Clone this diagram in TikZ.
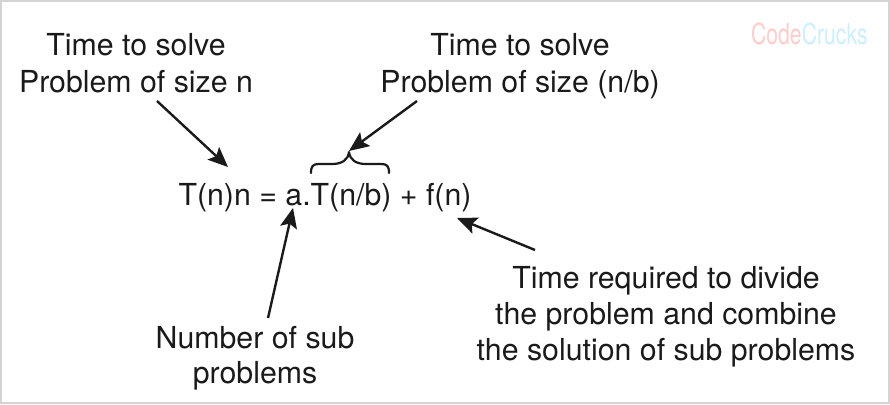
\documentclass[tikz,border=0pt]{standalone}
\usepackage{fontspec}
\setmainfont{TeX Gyre Heros}
\usetikzlibrary{arrows.meta}
\definecolor{framegray}{HTML}{D4D4D4}
\definecolor{inkc}{HTML}{1A1A1A}
\definecolor{wmred}{HTML}{FFCCCC}
\definecolor{wmblue}{HTML}{CCEEFF}
\tikzset{
  lbl/.style={inner sep=0pt,anchor=base,align=center,text=inkc,font=\fontsize{30.3}{36}\selectfont},
  pointer/.style={draw=inkc,line width=2.4pt,-{Stealth[length=20pt,width=17pt,inset=4pt]}},
  bracecurve/.style={draw=inkc,line width=2.2pt,line cap=round,line join=round}
}
\begin{document}
\begin{tikzpicture}[x=1pt,y=-1pt]
\useasboundingbox (0,0) rectangle (890,404);
\fill[framegray] (0,0) rectangle (890,404);
\fill[white] (2,2.5) rectangle (887.5,402);
\node[inner sep=0pt,anchor=base west,xscale=0.73,font=\fontsize{29}{34}\selectfont] (wm) at (751,45) {\textcolor{wmred}{Code}\textcolor{wmblue}{Crucks}};

\node[lbl] (a1) at (136,56) {Time to solve};
\node[lbl] (a2) at (136,92) {Problem of size n};
\node[lbl] (b1) at (520,56) {Time to solve};
\node[lbl] (b2) at (520,92) {Problem of size (n/b)};
\node[lbl] (eq) at (325,205.5) {T(n)n = a.T(n/b) + f(n)};
\node[lbl] (c1) at (255,348) {Number of sub};
\node[lbl] (c2) at (255,383) {problems};
\node[lbl] (d1) at (666,288.5) {Time required to divide};
\node[lbl] (d2) at (666,324.5) {the problem and combine};
\node[lbl] (d3) at (666,360) {the solution of sub problems};

\coordinate (s1) at (157,101);
\coordinate (e1) at (228,167);
\coordinate (s2) at (417,101);
\coordinate (e2) at (349,151);
\coordinate (s3) at (268,318);
\coordinate (e3) at (293,208);
\coordinate (s4) at (535,250);
\coordinate (e4) at (457,218);
\coordinate (bl) at (311,173);
\coordinate (br) at (389,173);

\draw[pointer] (s1) -- (e1);
\draw[pointer] (s2) -- (e2);
\draw[pointer] (s3) -- (e3);
\draw[pointer] (s4) -- (e4);
\draw[bracecurve] (bl) .. controls (311,166) and (313,164) .. (319,164)
  -- (332,164) .. controls (342,164) and (348,160) .. (349,152)
  .. controls (350,160) and (356,164) .. (366,164)
  -- (381,164) .. controls (387,164) and (389,166) .. (br);
\end{tikzpicture}
\end{document}
